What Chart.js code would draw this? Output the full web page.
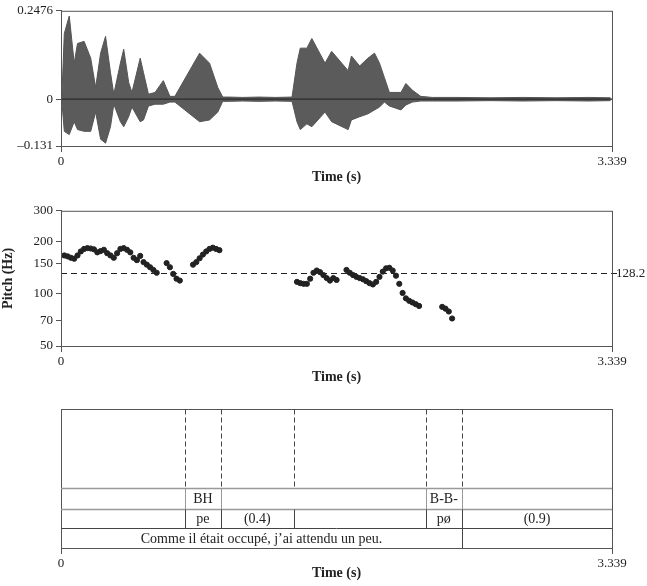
<!DOCTYPE html>
<html>
<head>
<meta charset="utf-8">
<script src="https://cdn.jsdelivr.net/npm/chart.js@4.4.1/dist/chart.umd.min.js"></script>
<style>
  body { margin: 0; background: #fff; }
  canvas { position: absolute; left: 0; }
</style>
</head>
<body>
<canvas id="wave" style="top:0px" width="647" height="190"></canvas>
<canvas id="pitch" style="top:200px" width="647" height="190"></canvas>
<canvas id="grid" style="top:400px" width="647" height="186"></canvas>
<script>
const duration = 3.339;

// waveform envelope (time s, upper / lower amplitude)
const waveTimes = [0.005, 0.02, 0.05, 0.08, 0.1, 0.14, 0.18, 0.21, 0.24, 0.27, 0.3, 0.32, 0.36, 0.38, 0.41, 0.43, 0.48, 0.5, 0.53, 0.57, 0.62, 0.66, 0.69, 0.84, 0.9, 0.95, 0.98, 1.02, 1.1, 1.2, 1.3, 1.4, 1.43, 1.45, 1.49, 1.52, 1.6, 1.64, 1.74, 1.76, 1.81, 1.86, 1.9, 1.93, 1.96, 1.99, 2.06, 2.09, 2.13, 2.18, 2.25, 2.4, 2.6, 2.8, 3.0, 3.2, 3.33];
const waveUpper = [0.005, 0.184, 0.233, 0.101, 0.156, 0.162, 0.115, 0.033, 0.129, 0.176, 0.074, 0.014, 0.101, 0.140, 0.047, 0.019, 0.115, 0.074, 0.014, 0.019, 0.052, 0.008, 0.008, 0.129, 0.101, 0.033, 0.006, 0.006, 0.005, 0.006, 0.005, 0.006, 0.101, 0.143, 0.143, 0.170, 0.101, 0.134, 0.080, 0.121, 0.093, 0.115, 0.129, 0.101, 0.060, 0.019, 0.019, 0.044, 0.025, 0.008, 0.005, 0.005, 0.004, 0.005, 0.004, 0.005, 0.004];
const waveLower = [-0.005, -0.090, -0.099, -0.063, -0.085, -0.090, -0.090, -0.036, -0.112, -0.123, -0.077, -0.014, -0.063, -0.077, -0.049, -0.022, -0.063, -0.058, -0.019, -0.014, -0.014, -0.008, -0.008, -0.063, -0.058, -0.036, -0.006, -0.006, -0.005, -0.006, -0.005, -0.006, -0.063, -0.085, -0.069, -0.077, -0.036, -0.063, -0.085, -0.058, -0.049, -0.041, -0.030, -0.022, -0.008, -0.019, -0.030, -0.016, -0.008, -0.005, -0.005, -0.005, -0.004, -0.005, -0.004, -0.005, -0.004];
const waveTicks = [-0.131, 0, 0.2476];

// pitch track (Hz)
const pitchTimes = [0.02, 0.04, 0.06, 0.08, 0.1, 0.12, 0.14, 0.16, 0.18, 0.2, 0.22, 0.24, 0.26, 0.28, 0.3, 0.32, 0.34, 0.36, 0.38, 0.4, 0.42, 0.44, 0.46, 0.48, 0.5, 0.52, 0.54, 0.56, 0.58,
  0.64, 0.66, 0.68, 0.7, 0.72,
  0.8, 0.82, 0.84, 0.86, 0.88, 0.9, 0.92, 0.94, 0.96,
  1.43, 1.45, 1.47, 1.49, 1.51, 1.53, 1.55, 1.57, 1.59, 1.61, 1.63, 1.65, 1.67,
  1.73, 1.75, 1.77, 1.79, 1.81, 1.83, 1.85, 1.87, 1.89, 1.91, 1.93, 1.95, 1.97, 1.99, 2.01,
  2.03, 2.05, 2.07, 2.09, 2.11, 2.13, 2.15, 2.17,
  2.31, 2.33, 2.35, 2.37];
const pitchValues = [166, 164, 161, 159, 166, 175, 181, 183, 182, 180, 173, 176, 179, 171, 166, 161, 171, 181, 183, 179, 173, 161, 156, 165, 152, 147, 142, 137, 132,
  150, 142, 130, 122, 119,
  147, 152, 160, 168, 175, 181, 184, 181, 178,
  117, 115, 114, 114, 122, 132, 136, 133, 128, 123, 119, 123, 120,
  137, 132, 128, 125, 123, 121, 118, 115, 113, 117, 125, 134, 140, 141, 136,
  127, 114, 101, 94, 91, 89, 87, 85,
  84, 82, 79, 72];
const pitchTicks = [50, 70, 100, 150, 200, 300];
const pitchMean = 128.2;

// text grid tiers: boundaries (s) and interval labels
const tierTops = [4, 1.73, 1.12, 0.575];
const tier1Bounds = [0.751, 0.97, 1.412, 2.212, 2.43];
const tier2Bounds = [0.751, 0.97, 2.212, 2.43];
const tier2Labels = [{ t: 0.86, text: "BH" }, { t: 2.32, text: "B-B-" }];
const tier3Bounds = [0.751, 0.97, 1.412, 2.212, 2.43];
const tier3Labels = [{ t: 0.86, text: "pe" }, { t: 1.19, text: "(0.4)" }, { t: 2.32, text: "pø" }, { t: 2.885, text: "(0.9)" }];
const tier4Bounds = [2.43];
const tier4Labels = [{ t: 1.215, text: "Comme il était occupé, j’ai attendu un peu." }];

const serif = "'Liberation Serif', 'DejaVu Serif', serif";
const ink = "#222";
Chart.defaults.font.family = serif;
Chart.defaults.font.size = 13;
Chart.defaults.color = ink;
Chart.defaults.animation = false;

const frame = {
  id: "frame",
  afterDraw(chart) {
    const { ctx, chartArea: a } = chart;
    ctx.save();
    ctx.strokeStyle = "#555";
    ctx.lineWidth = 1;
    ctx.strokeRect(a.left + 0.5, a.top + 0.5, a.right - a.left, a.bottom - a.top);
    ctx.restore();
  }
};

function timeAxis(h) {
  return {
    type: "linear", min: 0, max: duration,
    afterBuildTicks: s => { s.ticks = [{ value: 0 }, { value: duration }]; },
    afterFit: s => { s.height = h; },
    ticks: { callback: v => v === 0 ? "0" : "3.339", maxRotation: 0, padding: 2, font: { size: 13 } },
    grid: { drawOnChartArea: false, tickLength: 6, color: "#555" },
    border: { color: "#555" },
    title: { display: true, text: "Time (s)", font: { size: 14, weight: "bold" }, padding: { top: 0 } }
  };
}

new Chart(document.getElementById("wave"), {
  type: "line",
  data: {
    datasets: [
      { data: waveTimes.map((t, i) => ({ x: t, y: waveUpper[i] })), borderColor: "#555", borderWidth: 1, pointRadius: 0, fill: false },
      { data: waveTimes.map((t, i) => ({ x: t, y: waveLower[i] })), borderColor: "#555", borderWidth: 1, pointRadius: 0, fill: "-1", backgroundColor: "rgba(50,50,50,0.8)" },
      { data: [{ x: 0, y: 0 }, { x: duration, y: 0 }], borderColor: "#111", borderWidth: 1.2, pointRadius: 0 }
    ]
  },
  options: {
    responsive: false,
    layout: { padding: { top: 8, right: 35 } },
    plugins: { legend: { display: false }, tooltip: { enabled: false } },
    scales: {
      x: timeAxis(44),
      y: {
        min: -0.131, max: 0.2476,
        afterBuildTicks: s => { s.ticks = waveTicks.map(v => ({ value: v })); },
        afterFit: s => { s.width = 61; },
        ticks: { callback: v => v === 0 ? "0" : (v < 0 ? "–0.131" : "0.2476"), padding: 3 },
        grid: { drawOnChartArea: false, tickLength: 5, color: "#555" },
        border: { color: "#555" }
      }
    }
  },
  plugins: [frame]
});

const meanLine = {
  id: "meanLine",
  afterDatasetsDraw(chart) {
    const { ctx, chartArea: a, scales: { y } } = chart;
    const py = Math.round(y.getPixelForValue(pitchMean)) - 1.5;
    ctx.save();
    ctx.strokeStyle = ink;
    ctx.lineWidth = 1;
    ctx.setLineDash([6, 4]);
    ctx.beginPath(); ctx.moveTo(a.left, py); ctx.lineTo(a.right, py); ctx.stroke();
    ctx.setLineDash([]);
    ctx.beginPath(); ctx.moveTo(a.right, py); ctx.lineTo(a.right + 5, py); ctx.stroke();
    ctx.font = "13px " + serif;
    ctx.fillStyle = ink;
    ctx.textBaseline = "middle";
    ctx.fillText(String(pitchMean), a.right + 4, py);
    ctx.restore();
  }
};

new Chart(document.getElementById("pitch"), {
  type: "scatter",
  data: {
    datasets: [{ data: pitchTimes.map((t, i) => ({ x: t, y: pitchValues[i] })), backgroundColor: ink, borderColor: ink, pointRadius: 2.6 }]
  },
  options: {
    responsive: false,
    layout: { padding: { top: 8, right: 35 } },
    plugins: { legend: { display: false }, tooltip: { enabled: false } },
    scales: {
      x: timeAxis(44),
      y: {
        type: "logarithmic", min: 50, max: 300,
        afterBuildTicks: s => { s.ticks = pitchTicks.map(v => ({ value: v })); },
        afterFit: s => { s.width = 61; },
        ticks: { callback: v => String(v), padding: 3 },
        grid: { drawOnChartArea: false, tickLength: 5, color: "#555" },
        border: { color: "#555" },
        title: { display: true, text: "Pitch (Hz)", font: { size: 14, weight: "bold" }, padding: 0 }
      }
    }
  },
  plugins: [frame, meanLine]
});

const textGrid = {
  id: "textGrid",
  afterDraw(chart) {
    const { ctx, chartArea: a, scales: { x, y } } = chart;
    const X = t => Math.round(x.getPixelForValue(t)) + 0.5;
    const Y = v => Math.round(y.getPixelForValue(v)) + 0.5;
    ctx.save();
    // tier separators
    ctx.lineWidth = 1.5;
    ctx.strokeStyle = "#999";
    [tierTops[1], tierTops[2]].forEach(v => { ctx.beginPath(); ctx.moveTo(a.left, Y(v)); ctx.lineTo(a.right, Y(v)); ctx.stroke(); });
    ctx.lineWidth = 1;
    ctx.strokeStyle = "#444";
    ctx.beginPath(); ctx.moveTo(a.left, Y(tierTops[3])); ctx.lineTo(a.right, Y(tierTops[3])); ctx.stroke();
    // dashed boundaries in the top tier
    ctx.setLineDash([5, 3]);
    tier1Bounds.forEach(t => { ctx.beginPath(); ctx.moveTo(X(t), Y(tierTops[0])); ctx.lineTo(X(t), Y(tierTops[1])); ctx.stroke(); });
    ctx.setLineDash([]);
    const bounds = (list, top, bot, col) => {
      ctx.strokeStyle = col;
      list.forEach(t => { ctx.beginPath(); ctx.moveTo(X(t), Y(top)); ctx.lineTo(X(t), Y(bot)); ctx.stroke(); });
    };
    bounds(tier2Bounds, tierTops[1], tierTops[2], "#999");
    bounds(tier3Bounds, tierTops[2], tierTops[3], "#444");
    bounds(tier4Bounds, tierTops[3], 0, "#444");
    ctx.fillStyle = ink;
    ctx.font = "14px " + serif;
    ctx.textAlign = "center";
    ctx.textBaseline = "middle";
    const labels = (list, top, bot) => list.forEach(l => ctx.fillText(l.text, x.getPixelForValue(l.t), (y.getPixelForValue(top) + y.getPixelForValue(bot)) / 2 + 1));
    labels(tier2Labels, tierTops[1], tierTops[2]);
    labels(tier3Labels, tierTops[2], tierTops[3]);
    labels(tier4Labels, tierTops[3], 0);
    ctx.restore();
  }
};

new Chart(document.getElementById("grid"), {
  type: "scatter",
  data: { datasets: [{ data: [] }] },
  options: {
    responsive: false,
    layout: { padding: { top: 9, right: 35 } },
    plugins: { legend: { display: false }, tooltip: { enabled: false } },
    scales: {
      x: timeAxis(38),
      y: {
        min: 0, max: 4, display: true,
        afterFit: s => { s.width = 61; },
        ticks: { display: false },
        grid: { display: false },
        border: { display: false }
      }
    }
  },
  plugins: [frame, textGrid]
});
</script>
</body>
</html>
